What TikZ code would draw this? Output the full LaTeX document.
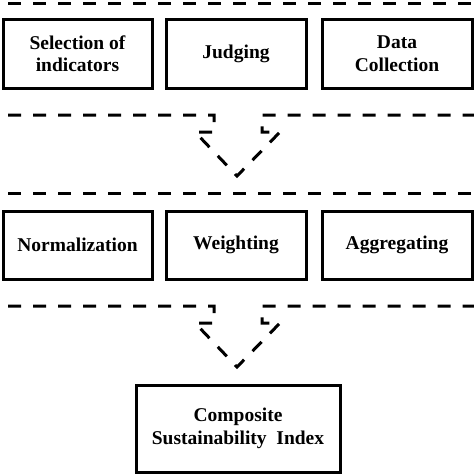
\documentclass[tikz,border=0pt]{standalone}
\usepackage{fontspec}
\setmainfont{Liberation Serif}
\begin{document}
\begin{tikzpicture}[x=1pt,y=-1pt,
  stepbox/.style={draw,line width=3pt,align=center,font=\bfseries\fontsize{19.5}{22.5}\selectfont,inner sep=0pt},
  dline/.style={line width=3pt,dash pattern=on 13pt off 12pt}]
\useasboundingbox (0,0) rectangle (474,474);
% row 1
\node[stepbox,minimum width=149pt,minimum height=69pt] (sel) at (77.5,53.5) {Selection of\\indicators};
\node[stepbox,minimum width=140pt,minimum height=69pt] (jud) at (236,53.5) {Judging};
\node[stepbox,minimum width=150pt,minimum height=69pt] (dat) at (397,53.5) {Data\\Collection};
% row 2
\node[stepbox,minimum width=149pt,minimum height=68pt] (nor) at (77.5,245) {Normalization};
\node[stepbox,minimum width=140pt,minimum height=68pt] (wei) at (236,245) {Weighting};
\node[stepbox,minimum width=150pt,minimum height=68pt] (agg) at (397,245) {Aggregating};
% final
\node[stepbox,minimum width=204pt,minimum height=87pt] (csi) at (238,428.5) {Composite\\Sustainability~ Index};
% dashed frames and arrows
\draw[dline] (8,3) -- (476,3);
\draw[dline] (8,115) -- (214,115) -- (214,132) -- (195,132) -- (237,176) -- (280,132) -- (262,132) -- (262,115) -- (476,115);
\draw[dline] (8,193) -- (476,193);
\draw[dline] (8,306) -- (214,306) -- (214,323) -- (195,323) -- (237,367) -- (280,323) -- (262,323) -- (262,306) -- (476,306);
\end{tikzpicture}
\end{document}
